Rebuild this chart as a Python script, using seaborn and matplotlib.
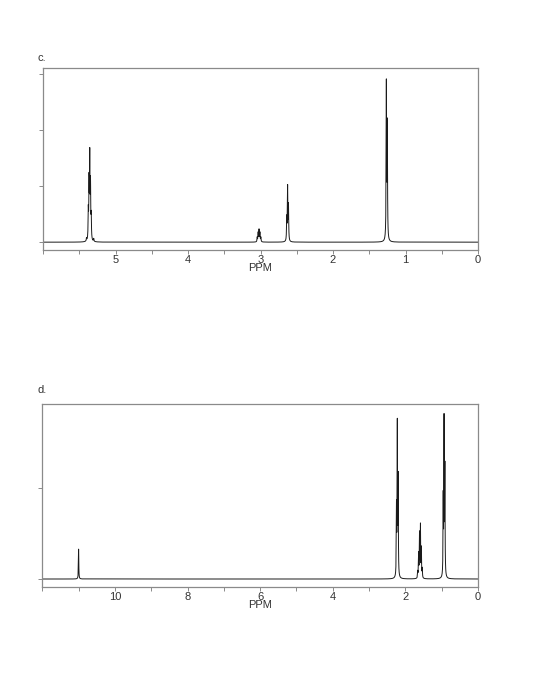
import numpy as np
import pandas as pd
import matplotlib
matplotlib.use("Agg")
import matplotlib.pyplot as plt
import seaborn as sns
from matplotlib.ticker import MultipleLocator

# ---- data: peak lists (ppm, relative intensity) ----
c_shift = [5.40, 5.375, 5.365, 5.355, 5.345, 5.335, 5.30,
           3.045, 3.032, 3.020, 3.008, 2.995,
           2.638, 2.626, 2.614,
           1.264, 1.251]
c_height = [0.05, 0.50, 1.00, 1.45, 0.95, 0.40, 0.05,
            0.08, 0.16, 0.21, 0.16, 0.08,
            0.40, 0.95, 0.62,
            2.78, 2.03]

d_shift = [11.00,
           2.245, 2.222, 2.199,
           1.660, 1.635, 1.610, 1.585, 1.560, 1.535,
           0.958, 0.935, 0.912]
d_height = [0.33,
            0.75, 1.66, 1.07,
            0.07, 0.26, 0.48, 0.57, 0.32, 0.10,
            0.85, 1.70, 1.18]

c_xticks = [5, 4, 3, 2, 1, 0]
d_xticks = [10, 8, 6, 4, 2, 0]
c_yticks = [0, 1, 2, 3]
d_yticks = [0, 1]
x_label = "PPM"


def spectrum(shifts, heights, lo, hi, gamma, n):
    x = np.linspace(lo, hi, n)
    y = np.zeros_like(x)
    for s, h in zip(shifts, heights):
        y += h * gamma ** 2 / ((x - s) ** 2 + gamma ** 2)
    return pd.DataFrame({"ppm": x, "intensity": y})


sns.set_theme(style="white")
plt.rcParams['font.family'] = ['Liberation Sans', 'DejaVu Sans']

fig = plt.figure(figsize=(5.6, 7), dpi=100)
ax_c = fig.add_axes([43 / 560, 1 - 250 / 700, 435 / 560, 182 / 700])
ax_d = fig.add_axes([42.3 / 560, 1 - 586.7 / 700, 435.7 / 560, 182.4 / 700])

frame_col = "#8a8a8a"
text_col = "#333333"
fs = 8


def style(ax, xlim, ylim, minor, xticks, yticks):
    ax.set_xlim(*xlim)
    ax.set_ylim(*ylim)
    ax.set_xticks(xticks)
    ax.xaxis.set_minor_locator(MultipleLocator(minor))
    ax.set_yticks(yticks)
    ax.set_yticklabels([])
    ax.set_ylabel("")
    ax.set_xlabel(x_label, fontsize=fs, color=text_col, labelpad=-1)
    for sp in ax.spines.values():
        sp.set_visible(True)
        sp.set_color(frame_col)
        sp.set_linewidth(0.9)
    ax.tick_params(axis="x", which="both", direction="out", length=3, width=0.7,
                   color=frame_col, labelsize=fs, labelcolor=text_col, pad=0.5,
                   bottom=True)
    ax.tick_params(axis="y", which="major", direction="out", length=3, width=0.7,
                   color=frame_col, left=True)
    ax.grid(False)


df_c = spectrum(c_shift, c_height, 0.0, 6.0, 0.0035, 24000)
sns.lineplot(data=df_c, x="ppm", y="intensity", ax=ax_c, color="#1a1a1a",
             linewidth=0.7, estimator=None, sort=False)
style(ax_c, (6, 0), (-0.14, 3.11), 0.5, c_xticks, c_yticks)

df_d = spectrum(d_shift, d_height, 0.0, 12.0, 0.006, 30000)
sns.lineplot(data=df_d, x="ppm", y="intensity", ax=ax_d, color="#1a1a1a",
             linewidth=0.7, estimator=None, sort=False)
style(ax_d, (12, 0), (-0.085, 1.93), 1, d_xticks, d_yticks)

fig.text(38 / 560, 1 - 57.7 / 700, "c.", fontsize=fs, color=text_col, va="center")
fig.text(38 / 560, 1 - 390 / 700, "d.", fontsize=fs, color=text_col, va="center")

fig.savefig("out.png", dpi=100)
